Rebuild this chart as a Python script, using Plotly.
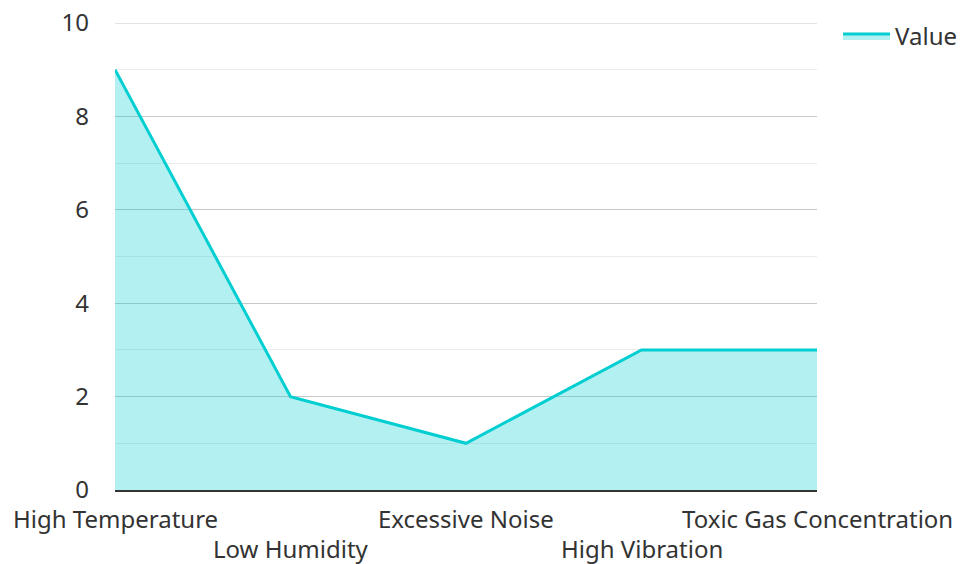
import plotly.graph_objects as go

categories = ["High Temperature", "Low Humidity", "Excessive Noise", "High Vibration", "Toxic Gas Concentration"]
values = [9, 2, 1, 3, 3]
series_name = "Value"
y_ticks = [0, 2, 4, 6, 8, 10]

x_pos = list(range(len(categories)))

fig = go.Figure()
fig.add_trace(go.Scatter(
    x=x_pos, y=values, name=series_name,
    mode="lines", fill="tozeroy",
    line=dict(color="#00CED1", width=3),
    fillcolor="rgba(0,206,209,0.3)",
))

font_family = "Noto Sans, Open Sans, sans-serif"
txt_color = "#333333"
fs = 24

for i, c in enumerate(categories):
    fig.add_annotation(
        x=x_pos[i], y=0, xref="x", yref="paper",
        text=c, showarrow=False, xanchor="center", yanchor="top",
        yshift=-10 if i % 2 == 0 else -40,
        font=dict(family=font_family, size=fs, color=txt_color),
    )

# top gridline at the end of the range (plotly skips grid lines at the axis ends)
fig.add_shape(type="line", xref="paper", yref="y", x0=0, x1=1,
              y0=y_ticks[-1], y1=y_ticks[-1],
              line=dict(color="#c8c8c8", width=1), layer="below")

# page body has an 8px default margin
fig.update_layout(
    width=958, height=556,
    margin=dict(l=107, r=149, t=15, b=74, autoexpand=False),
    plot_bgcolor="white", paper_bgcolor="white",
    font=dict(family=font_family, size=fs, color=txt_color),
    showlegend=True,
    legend=dict(x=1.03, y=1.0195, xanchor="left", yanchor="top",
                itemwidth=47,
                font=dict(size=fs, color=txt_color), bgcolor="rgba(0,0,0,0)"),
    xaxis=dict(
        range=[0, len(categories) - 1],
        showticklabels=False, automargin=False,
        showgrid=False, zeroline=False,
        showline=True, linecolor="#333333", linewidth=2,
        ticks="",
    ),
    yaxis=dict(
        range=[0, 10], tickmode="array", tickvals=y_ticks,
        automargin=False, ticklabeloverflow="allow",
        showgrid=True, gridcolor="#c8c8c8", gridwidth=1,
        minor=dict(dtick=1, showgrid=True, gridcolor="#ebebeb", gridwidth=1),
        zeroline=False, showline=False, ticks="",
        ticklabelstandoff=25,
        tickfont=dict(size=fs, color=txt_color),
    ),
)
fig.write_html("out.html")
